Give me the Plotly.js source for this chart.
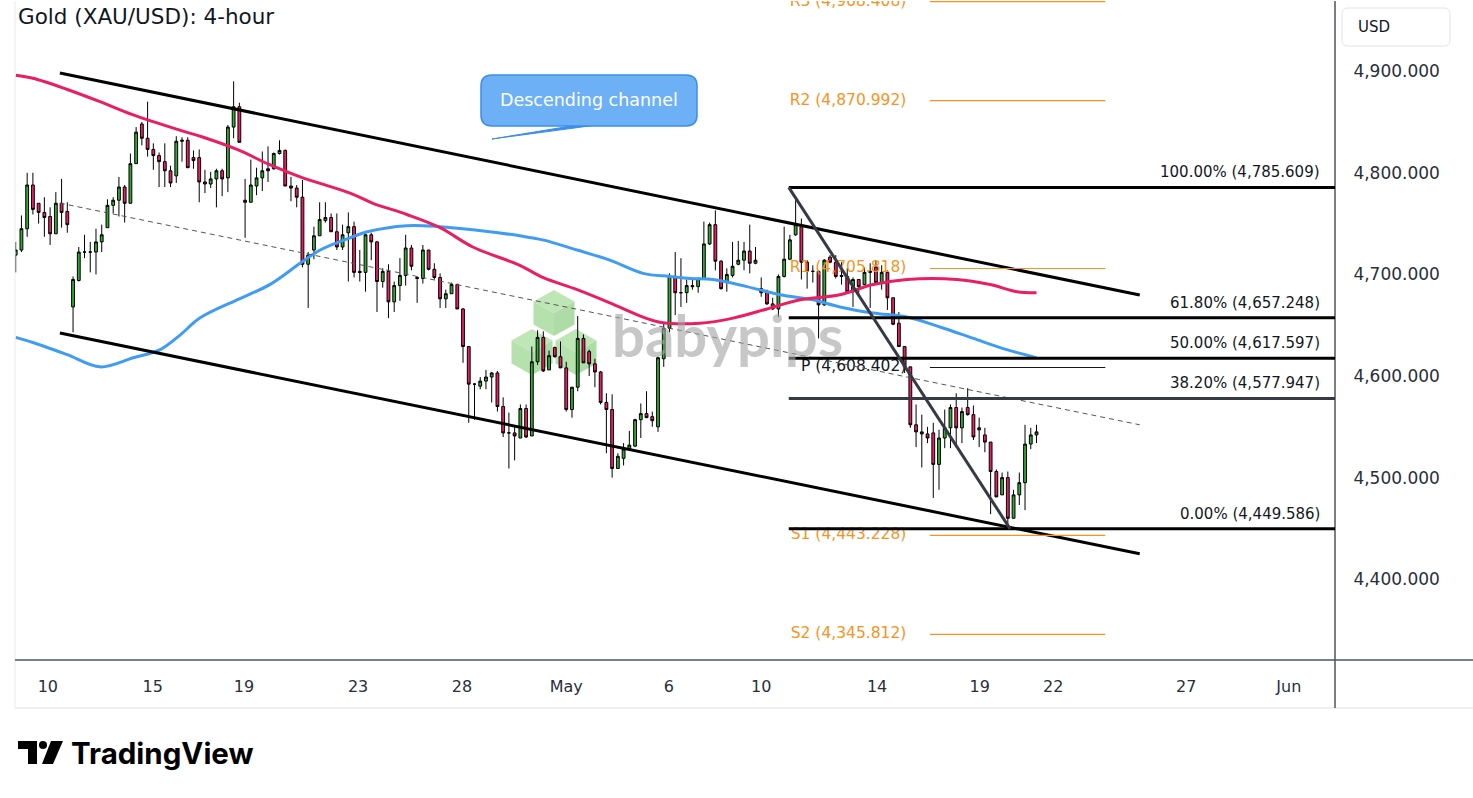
<!DOCTYPE html>
<html><head><meta charset="utf-8">
<script src="https://cdn.plot.ly/plotly-3.0.1.min.js"></script>
<style>html,body{margin:0;padding:0;background:#fff;}#chart{width:1473px;height:798px;}</style>
</head><body><div id="chart"></div>
<script>
// ---- OHLC data (4-hour candles) ----
const openP = [
4719,4724,4745,4788,4770,4761,4757,4740,4770,4762,
4668,4694,4722,4722,4722,4732,4746,4768,4773,4786,
4770,4809,4848,4834,4823,4817,4811,4802,4797,4831,
4832,4815,4815,4791,4789,4794,4802,4795,4845,4865,
4773,4771,4787,4795,4804,4804,4819,4822,4787,4785,
4776,4710,4724,4738,4753,4756,4742,4727,4741,4747,
4703,4702,4739,4732,4693,4703,4673,4689,4699,4726,
4697,4696,4724,4705,4697,4676,4681,4690,4666,4629,
4592,4590,4595,4599,4603,4570,4544,4544,4539,4568,
4541,4614,4638,4606,4628,4619,4608,4567,4589,4637,
4624,4612,4604,4574,4567,4509,4519,4528,4531,4557,
4563,4560,4550,4617,4647,4698,4682,4682,4689,4688,
4696,4730,4749,4713,4692,4699,4710,4714,4723,4711,
4686,4682,4671,4666,4698,4715,4739,4747,4712,4703,
4703,4670,4717,4712,4699,4698,4683,4695,4690,4702,
4707,4692,4702,4677,4652,4629,4609,4552,4545,4543,
4544,4513,4539,4549,4569,4549,4569,4562,4549,4542,
4535,4506,4483,4500,4460,4483,4495,4533,4542];
const highP = [
4732,4758,4800,4800,4770,4776,4766,4781,4794,4771,
4698,4727,4739,4732,4745,4749,4774,4776,4796,4788,
4819,4845,4850,4870,4829,4820,4829,4807,4836,4835,
4835,4822,4823,4803,4801,4804,4804,4847,4890,4869,
4794,4813,4805,4821,4826,4820,4832,4823,4796,4788,
4793,4722,4747,4771,4771,4760,4760,4749,4761,4752,
4724,4742,4741,4733,4706,4710,4693,4716,4739,4729,
4698,4729,4724,4711,4701,4685,4692,4691,4667,4629,
4593,4599,4606,4604,4605,4579,4564,4550,4572,4572,
4629,4645,4644,4625,4629,4634,4614,4589,4659,4641,
4626,4617,4605,4583,4582,4524,4534,4546,4558,4573,
4585,4565,4619,4652,4701,4722,4716,4695,4695,4697,
4752,4751,4763,4714,4706,4732,4733,4732,4749,4727,
4697,4685,4677,4700,4747,4739,4773,4755,4714,4709,
4704,4715,4719,4719,4712,4706,4697,4695,4707,4711,
4714,4709,4704,4677,4663,4629,4609,4572,4562,4550,
4554,4547,4567,4572,4583,4569,4588,4571,4559,4549,
4535,4508,4505,4506,4488,4505,4552,4549,4552];
const lowP = [
4702,4722,4737,4759,4750,4737,4729,4740,4746,4741,
4643,4693,4716,4702,4700,4722,4746,4760,4757,4751,
4770,4809,4827,4816,4803,4786,4786,4786,4790,4811,
4805,4804,4771,4780,4785,4766,4777,4781,4834,4830,
4736,4771,4778,4782,4791,4803,4818,4787,4772,4766,
4707,4667,4715,4738,4751,4742,4724,4724,4693,4697,
4693,4683,4714,4663,4687,4657,4663,4674,4689,4704,
4672,4691,4704,4695,4667,4667,4681,4666,4613,4554,
4557,4587,4587,4574,4565,4540,4509,4517,4539,4539,
4541,4611,4604,4606,4618,4608,4565,4559,4585,4613,
4600,4589,4572,4524,4500,4509,4512,4528,4530,4539,
4559,4550,4545,4609,4643,4660,4668,4672,4685,4682,
4695,4729,4704,4685,4683,4697,4709,4704,4701,4710,
4678,4670,4665,4658,4697,4714,4738,4695,4686,4692,
4637,4669,4711,4696,4690,4682,4668,4678,4690,4667,
4692,4685,4665,4650,4629,4603,4549,4530,4510,4534,
4480,4488,4529,4529,4530,4534,4561,4537,4530,4525,
4464,4481,4483,4450,4460,4473,4468,4528,4534];
const closeP = [
4724,4745,4788,4764,4761,4756,4740,4770,4761,4749,
4695,4722,4722,4722,4732,4739,4768,4773,4786,4770,
4809,4840,4834,4823,4817,4811,4802,4790,4831,4832,
4805,4812,4791,4789,4794,4802,4794,4845,4865,4830,
4771,4788,4795,4802,4802,4819,4822,4787,4785,4776,
4710,4719,4738,4754,4756,4742,4727,4739,4747,4702,
4702,4739,4732,4693,4703,4673,4689,4699,4726,4708,
4696,4724,4705,4697,4676,4681,4690,4666,4629,4592,
4592,4595,4599,4603,4570,4544,4544,4541,4568,4540,
4614,4638,4605,4620,4619,4608,4567,4589,4637,4613,
4612,4604,4574,4567,4509,4521,4528,4532,4557,4563,
4559,4556,4618,4647,4698,4682,4682,4689,4688,4696,
4730,4749,4713,4686,4700,4708,4714,4723,4711,4714,
4682,4671,4666,4698,4715,4734,4749,4712,4703,4703,
4670,4714,4712,4698,4698,4683,4695,4688,4702,4703,
4692,4702,4677,4651,4629,4609,4552,4545,4543,4539,
4513,4539,4549,4569,4549,4565,4562,4540,4547,4535,
4506,4481,4500,4460,4483,4495,4533,4542,4545];

// ---- moving averages (read at candle positions) ----
const pinkIdx = [0,3,9,14.7,20.5,28.6,32.7,38.6,44.3,49.6,58.3,62.3,68.2,74,79.7,87.9,91.9,97.9,103.6,109.4,112.3,119.3,125.1,131,136.8,143.7,149.5,155.4,164.1,169.9,174.6,178];
const pinkVal = [4896,4893,4882,4870,4857,4842,4835,4823,4808,4796,4780,4770,4759,4746,4727,4709,4697,4685,4672,4658,4653,4652,4657,4666,4675,4680,4690,4695,4695,4690,4683,4682];
const blueIdx = [0,3,9,14.7,20.5,25.2,28.6,32.1,38.6,44.3,49.6,53.1,58.3,61.3,68.2,74,79.7,87.9,91.9,97.9,103.6,109.4,114.1,117.6,121.6,127.5,133.3,139,143.7,149.5,155.4,161.3,167,172.8,178];
const blueVal = [4638,4633,4621,4609,4618,4626,4640,4657,4675,4690,4711,4724,4736,4742,4748,4747,4744,4738,4734,4724,4714,4701,4698,4696,4695,4688,4680,4675,4668,4662,4658,4648,4637,4626,4618];

// ---- axis ticks ----
const tickIdx  = [5.6,23.9,39.8,59.7,77.8,96.0,113.9,130.0,150.2,168.1,180.9,204.1,222.0];
const tickText = ['10','15','19','23','28','May','6','10','14','19','22','27','Jun'];
const yTicks = [4400,4500,4600,4700,4800,4900];

// ---- drawings ----
const chanX = [7.7,196.0];
const chanUpper = [4898.2,4679.7];
const chanLower = [4642.3,4425.0];
const chanMid = [4770.2,4552.0];
const fibLevels = [1,0.618,0.5,0.382,0];
const fibPrices = [4785.609,4657.248,4617.597,4577.947,4449.586];
const fibStartIdx = 134.8;
const trendX = [134.8,173.4];
const trendY = [4785.609,4449.586];
const pivotNames = ['R3','R2','R1','P','S1','S2'];
const pivotVals = [4968.408,4870.992,4705.818,4608.402,4443.228,4345.812];
const pivotLineIdx = [159.4,190.0];
const pivotLabelIdx = 155.3;

// ---- geometry ----
const W=1473,H=798,ML=15,MR=138,MT=1,MB=138;
const PW=W-ML-MR, PH=H-MT-MB;
const xRange=[-0.122,230.05], yRange=[4320.5,4969.1];
const px = x => (x-ML)/PW;
const py = y => (H-MB-y)/PH;
const pt = (x,y) => px(x).toFixed(5)+','+py(y).toFixed(5);
function roundRect(x0,y0,x1,y1,r){
  return 'M'+pt(x0+r,y0)+' L'+pt(x1-r,y0)+' Q'+pt(x1,y0)+' '+pt(x1,y0+r)+' L'+pt(x1,y1-r)+' Q'+pt(x1,y1)+' '+pt(x1-r,y1)+
  ' L'+pt(x0+r,y1)+' Q'+pt(x0,y1)+' '+pt(x0,y1-r)+' L'+pt(x0,y0+r)+' Q'+pt(x0,y0)+' '+pt(x0+r,y0)+' Z';
}
const fmt = v => v.toLocaleString('en-US',{minimumFractionDigits:3,maximumFractionDigits:3});
const FONT = 'DejaVu Sans';
const ORANGE = '#f7931e';

const idx = openP.map((_,i)=>i);

const traces = [
  {type:'candlestick', x:idx, open:openP, high:highP, low:lowP, close:closeP,
   increasing:{line:{color:'#000',width:1}, fillcolor:'#32a932'},
   decreasing:{line:{color:'#000',width:1}, fillcolor:'#e91e63'},
   whiskerwidth:0, hoverinfo:'skip', showlegend:false},
  {type:'scatter', mode:'lines', x:blueIdx, y:blueVal, line:{color:'#3f9cf2',width:3,shape:'spline',smoothing:1}, hoverinfo:'skip'},
  {type:'scatter', mode:'lines', x:pinkIdx, y:pinkVal, line:{color:'#e91e63',width:3,shape:'spline',smoothing:1}, hoverinfo:'skip'},
  {type:'scatter', mode:'text', x:pivotNames.map(()=>pivotLabelIdx), y:pivotVals,
   text:pivotNames.map((n,i)=>n+' ('+fmt(pivotVals[i])+')'), textposition:'middle left',
   textfont:{family:FONT,size:15.5,color:pivotNames.map(n=>n==='P'?'#131722':ORANGE)}, hoverinfo:'skip', cliponaxis:true}
];

const shapes = [];
// watermark cubes (below)
function cube(cx,cy){
  const w=20.5,h=23,m=11.5;
  shapes.push({type:'path',xref:'paper',yref:'paper',layer:'below',line:{width:0},fillcolor:'#bfe6b7',
    path:'M'+pt(cx,cy-h)+' L'+pt(cx+w,cy-m)+' L'+pt(cx,cy)+' L'+pt(cx-w,cy-m)+' Z'});
  shapes.push({type:'path',xref:'paper',yref:'paper',layer:'below',line:{width:0},fillcolor:'#b4e1ac',
    path:'M'+pt(cx-w,cy-m)+' L'+pt(cx,cy)+' L'+pt(cx,cy+h)+' L'+pt(cx-w,cy+m)+' Z'});
  shapes.push({type:'path',xref:'paper',yref:'paper',layer:'below',line:{width:0},fillcolor:'#aedca6',
    path:'M'+pt(cx+w,cy-m)+' L'+pt(cx,cy)+' L'+pt(cx,cy+h)+' L'+pt(cx+w,cy+m)+' Z'});
}
cube(554,313); cube(532,352); cube(576,352);

// frame
shapes.push({type:'line',xref:'paper',yref:'paper',x0:px(15),x1:px(15),y0:py(708),y1:py(1),line:{color:'#ebebee',width:1}});
shapes.push({type:'line',xref:'paper',yref:'paper',x0:px(15),x1:px(1473),y0:py(708),y1:py(708),line:{color:'#ebebee',width:1.5}});
shapes.push({type:'line',xref:'paper',yref:'paper',x0:px(15),x1:px(1473),y0:py(660),y1:py(660),line:{color:'#50535e',width:1.5}});
shapes.push({type:'line',xref:'paper',yref:'paper',x0:1,x1:1,y0:py(708),y1:1,line:{color:'#50535e',width:1.5}});

// channel
shapes.push({type:'line',xref:'x',yref:'y',x0:chanX[0],x1:chanX[1],y0:chanUpper[0],y1:chanUpper[1],line:{color:'#000',width:3}});
shapes.push({type:'line',xref:'x',yref:'y',x0:chanX[0],x1:chanX[1],y0:chanLower[0],y1:chanLower[1],line:{color:'#000',width:3}});
shapes.push({type:'line',xref:'x',yref:'y',x0:chanX[0],x1:chanX[1],y0:chanMid[0],y1:chanMid[1],line:{color:'#555',width:1,dash:'5px,4px'}});
// fib
fibLevels.forEach((l,i)=>{
  shapes.push({type:'line',xref:'x',yref:'y',x0:fibStartIdx,x1:xRange[1],y0:fibPrices[i],y1:fibPrices[i],
    line:{color:l===0.382?'#363a45':'#000',width:3}});
});
shapes.push({type:'line',xref:'x',yref:'y',x0:trendX[0],x1:trendX[1],y0:trendY[0],y1:trendY[1],line:{color:'#363a45',width:3}});
// pivots
pivotNames.forEach((n,i)=>{
  shapes.push({type:'line',xref:'x',yref:'y',x0:pivotLineIdx[0],x1:pivotLineIdx[1],y0:pivotVals[i],y1:pivotVals[i],
    line:{color:n==='P'?'#131722':ORANGE,width:1.2}});
});
// callout
shapes.push({type:'path',xref:'paper',yref:'paper',path:'M'+pt(577,125)+' L'+pt(492,139)+' L'+pt(597,125)+' Z',fillcolor:'#3b8eea',line:{color:'#3b8eea',width:1}});
shapes.push({type:'path',xref:'paper',yref:'paper',path:roundRect(481,75,697,126,11),fillcolor:'#6db0f6',line:{color:'#3b8eea',width:1.5}});
// USD box
shapes.push({type:'path',xref:'paper',yref:'paper',path:roundRect(1342,8,1450,46,6),fillcolor:'#fff',line:{color:'#e0e3eb',width:1}});
// TradingView logo mark
shapes.push({type:'path',xref:'paper',yref:'paper',path:'M'+pt(18,741)+' L'+pt(37,741)+' L'+pt(37,764)+' L'+pt(28,764)+' L'+pt(28,749)+' L'+pt(18,749)+' Z',fillcolor:'#000',line:{width:0}});
shapes.push({type:'circle',xref:'paper',yref:'paper',x0:px(39),x1:px(47),y0:py(749),y1:py(741),fillcolor:'#000',line:{width:0}});
shapes.push({type:'path',xref:'paper',yref:'paper',path:'M'+pt(51,741)+' L'+pt(63,741)+' L'+pt(53,764)+' L'+pt(42,764)+' Z',fillcolor:'#000',line:{width:0}});

const annotations = [];
fibLevels.forEach((l,i)=>{
  annotations.push({xref:'paper',yref:'y',x:px(1322),y:fibPrices[i],xanchor:'right',yanchor:'bottom',yshift:4,showarrow:false,
    text:(l*100).toFixed(2)+'% ('+fmt(fibPrices[i])+')',font:{family:FONT,size:15,color:'#131722'}});
});
annotations.push({xref:'paper',yref:'paper',x:px(16),y:py(17),xanchor:'left',yanchor:'middle',showarrow:false,
  text:'Gold (XAU/USD): 4-hour',font:{family:FONT,size:21.5,color:'#131722'}});
annotations.push({xref:'paper',yref:'paper',x:px(589),y:py(100),xanchor:'center',yanchor:'middle',showarrow:false,
  text:'Descending channel',font:{family:FONT,size:17.5,color:'#ffffff'}});
annotations.push({xref:'paper',yref:'paper',x:px(1356),y:py(27),xanchor:'left',yanchor:'middle',showarrow:false,
  text:'USD',font:{family:FONT,size:15,color:'#131722'}});
annotations.push({xref:'paper',yref:'paper',x:px(727),y:py(334),xanchor:'center',yanchor:'middle',showarrow:false,
  text:'<b>babypips</b>',font:{family:'Lato',size:58,color:'rgba(165,165,165,0.62)'}});
annotations.push({xref:'paper',yref:'paper',x:px(69),y:py(753),xanchor:'left',yanchor:'middle',showarrow:false,
  text:'<b>TradingView</b>',font:{family:'Inter',size:29.5,color:'#000'}});

const layout = {
  width:W,height:H,margin:{l:ML,r:MR,t:MT,b:MB,pad:0},
  paper_bgcolor:'#fff',plot_bgcolor:'#fff',showlegend:false,hovermode:false,
  xaxis:{range:xRange,showgrid:false,zeroline:false,showline:false,tickmode:'array',tickvals:tickIdx,ticktext:tickText,
    ticks:'outside',ticklen:12,tickcolor:'rgba(0,0,0,0)',tickfont:{family:FONT,size:16,color:'#2a2e39'},
    rangeslider:{visible:false},fixedrange:true},
  yaxis:{range:yRange,side:'right',showgrid:false,zeroline:false,showline:false,tickmode:'array',tickvals:yTicks,tickformat:',.3f',
    ticks:'outside',ticklen:14,tickcolor:'rgba(0,0,0,0)',tickfont:{family:FONT,size:17,color:'#2a2e39'},fixedrange:true},
  shapes:shapes, annotations:annotations
};
Plotly.newPlot('chart',traces,layout,{displayModeBar:false,staticPlot:true});
</script></body></html>
